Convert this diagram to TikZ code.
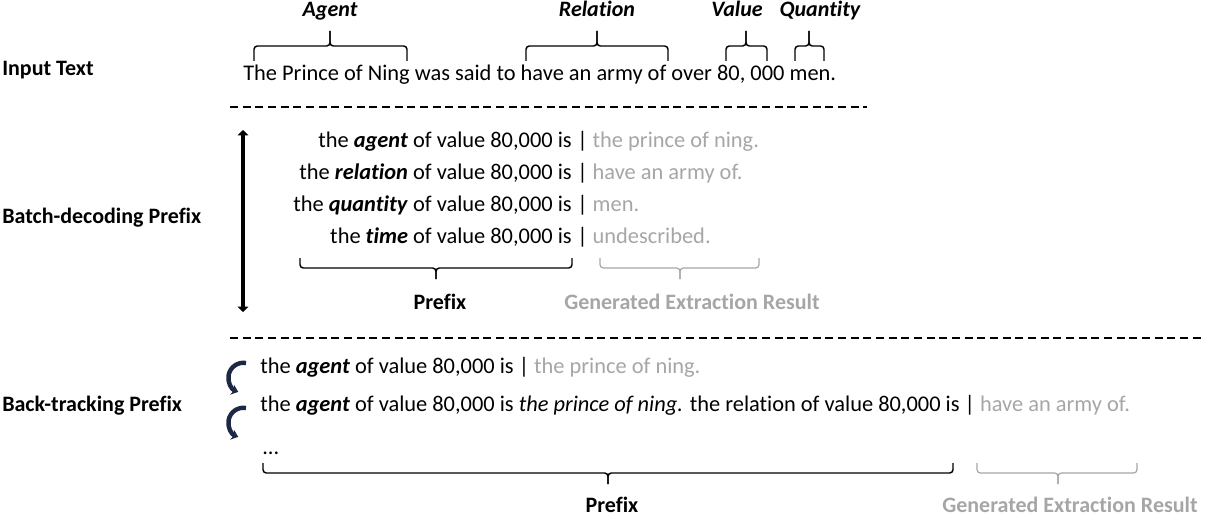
\documentclass[tikz,border=0pt]{standalone}
\usepackage{fontspec}
\setmainfont{Carlito}[Ligatures=NoCommon]
\usetikzlibrary{positioning}
\usetikzlibrary{arrows.meta}
\definecolor{resultGray}{RGB}{166,166,166}
\definecolor{loopColor}{RGB}{28,40,68}

\begin{document}
\begin{tikzpicture}[x=0.75pt,y=-0.75pt]

            \tikzstyle{textLine} = [inner sep=0pt, font=\fontsize{16.8}{20}\selectfont];
            \tikzstyle{rowLabel} = [inner sep=0pt, anchor=base west, font=\fontsize{16.5}{20}\selectfont\bfseries];
            \tikzstyle{roleLabel} = [inner sep=0pt, anchor=base, font=\fontsize{16.5}{20}\selectfont\bfseries\itshape];
            \tikzstyle{braceLabel} = [inner sep=0pt, anchor=base, font=\fontsize{16.5}{20}\selectfont\bfseries];
            \tikzstyle{braceLine} = [line width=1.1pt, rounded corners=2.5pt];
            \tikzstyle{grayBrace} = [braceLine, resultGray, line width=0.9pt];
            \tikzstyle{separator} = [line width=0.8pt, dash pattern=on 6pt off 3.5pt];
            \tikzstyle{batchArrow} = [line width=3.6pt, {Triangle[width=8pt,length=4pt]}-{Triangle[width=8pt,length=4pt]}];
            \tikzstyle{loopArrow} = [line width=3.3pt, loopColor, -{Stealth[width=8pt,length=5pt]}];

            \useasboundingbox (0,0) rectangle (1209,517);

            \node[rowLabel] (inputLabel) at (2,75)  {Input Text};
            \node[rowLabel] (batchLabel) at (2,223) {Batch-decoding Prefix};
            \node[rowLabel] (backLabel)  at (2,411) {Back-tracking Prefix};

            % input sentence and its roles
            \node[textLine, anchor=base west] (sentence) at (243,80)
                {The Prince of Ning was said to have an army of over 80, 000 men.};

            \node[roleLabel] (agent)    at (330,17) {Agent};
            \node[roleLabel] (relation) at (597,17) {Relation};
            \node[roleLabel] (value)    at (737,17) {Value};
            \node[roleLabel] (quantity) at (820,17) {Quantity};

            \foreach \l/\m/\r in {254/330/407, 526/597/668, 726/746/767, 795/809/824} {
                \draw[braceLine] (\l,61) |- (\m,46) -- (\m,31);
                \draw[braceLine] (\r,61) |- (\m,46) -- (\m,31);
            }

            \coordinate (sepOneA) at (230,107);
            \coordinate (sepOneB) at (867,107);
            \draw[separator] (sepOneA) -- (sepOneB);

            % batch decoding
            \coordinate (batchTop)    at (243,130);
            \coordinate (batchBottom) at (243,312);
            \draw[batchArrow] (batchTop) -- (batchBottom);

            \foreach \y/\role/\result in {147/agent/the prince of ning., 179/relation/have an army of., 211/quantity/men., 243/time/undescribed.} {
                \node[textLine, anchor=base east] (prompt\role) at (572,\y) {the \textbf{\textit{\role}} of value 80,000 is};
                \node[textLine, anchor=base west] (result\role) at (prompt\role.base east) {\ |\ \textcolor{resultGray}{\result}};
            }

            \draw[braceLine] (300,258) |- (436,268) -- (436,279);
            \draw[braceLine] (572,258) |- (436,268) -- (436,279);
            \draw[grayBrace] (600,258) |- (680,268) -- (680,279);
            \draw[grayBrace] (759,258) |- (680,268) -- (680,279);

            \node[braceLabel] (batchPrefix) at (440,309) {Prefix};
            \node[braceLabel, resultGray] (batchResult) at (692,309) {Generated Extraction Result};

            \coordinate (sepTwoA) at (230,338);
            \coordinate (sepTwoB) at (1205,338);
            \draw[separator] (sepTwoA) -- (sepTwoB);

            % back tracking
            \node[textLine, anchor=base west] (trackOne) at (260,373)
                {the \textbf{\textit{agent}} of value 80,000 is\ |\ \textcolor{resultGray}{the prince of ning.}};
            \node[textLine, anchor=base west] (trackTwo) at (260,411)
                {the \textbf{\textit{agent}} of value 80,000 is \textit{the prince of ning.} the relation of value 80,000 is\ |\ \textcolor{resultGray}{have an army of.}};
            \node[textLine, anchor=base west] (trackMore) at (262,454) {...};

            \coordinate (loopOne) at (246,363);
            \coordinate (loopTwo) at (246,408);
            \draw[loopArrow] (loopOne) arc[start angle=-80, end angle=-250, radius=15];
            \draw[loopArrow] (loopTwo) arc[start angle=-80, end angle=-250, radius=15];

            \draw[braceLine] (263,463) |- (608,473) -- (608,484);
            \draw[braceLine] (953,463) |- (608,473) -- (608,484);
            \draw[grayBrace] (977,463) |- (1058,473) -- (1058,484);
            \draw[grayBrace] (1137,463) |- (1058,473) -- (1058,484);

            \node[braceLabel] (trackPrefix) at (612,512) {Prefix};
            \node[braceLabel, resultGray] (trackResult) at (1070,512) {Generated Extraction Result};
          \end{tikzpicture}
\end{document}
